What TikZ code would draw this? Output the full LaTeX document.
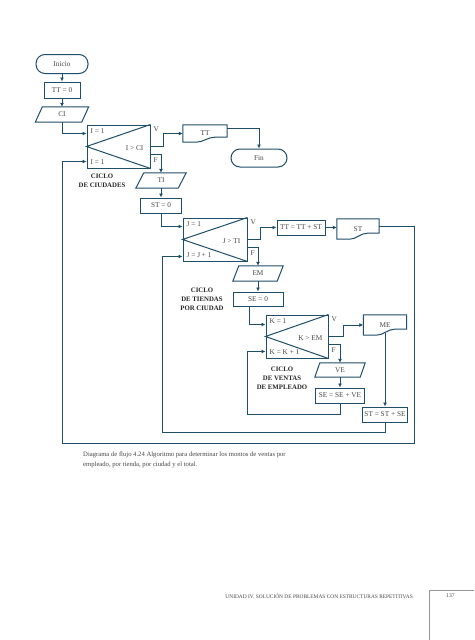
\documentclass[tikz,border=0pt]{standalone}
\usepackage{fontspec}
\setmainfont{Liberation Serif}
\usetikzlibrary{arrows.meta,calc}
\definecolor{lc}{RGB}{31,78,105}
\definecolor{tc}{RGB}{70,70,70}
\definecolor{fc}{RGB}{150,150,150}
\newcommand\paradraw[2]{\draw[ln] ([xshift=#2]#1.north west) -- (#1.north east) -- ([xshift=-#2]#1.south east) -- (#1.south west) -- cycle;}
\newcommand\docdraw[2]{\draw[ln] (#1.south west) -- (#1.north west) -- (#1.north east) -- ([yshift=#2]#1.south east) -- ($(#1.south west)!0.72!(#1.south east)+(0pt,#2)$) .. controls +(-7pt,0pt) and +(7pt,0pt) .. ($(#1.south west)!0.3!(#1.south east)$) -- cycle;}
\newcommand\loopdraw[1]{\draw[ln] (#1.north east) -- (#1.west) -- (#1.south east);}
\tikzset{
 ln/.style={draw=lc, line width=1pt},
 arr/.style={ln, -{Latex[length=4pt,width=4pt]}},
 txt/.style={text=tc, font=\fontsize{7.3}{8}\selectfont, inner sep=0pt},
 proc/.style={txt, draw=lc, line width=1pt, minimum height=15pt},
 term/.style={proc, rounded corners=9pt},
 io/.style={txt, minimum height=15pt},
 docnode/.style={txt, minimum height=20pt},
 loopbox/.style={draw=lc, line width=1pt, inner sep=0pt, minimum height=43pt},
 lbl/.style={txt},
 cyc/.style={font=\bfseries\fontsize{6.8}{9}\selectfont, align=center, text=black!85, inner sep=0pt},
}
\begin{document}
\begin{tikzpicture}[x=1pt,y=-1pt]
\useasboundingbox[fill=white] (0,0) rectangle (474,640);
% start
\node[term, minimum width=52pt, minimum height=19pt] (ini) at (62,64) {Inicio};
\node[proc, minimum width=36pt, minimum height=16pt] (tt0) at (62,90) {TT = 0};
\node[io, minimum width=53pt] (ci) at (62,114.5) {CI}; \paradraw{ci}{7pt}
% loop I
\node[loopbox, minimum width=63pt] (ib) at (118.5,146.5) {}; \loopdraw{ib}
\node[txt, anchor=west] (ib1) at ([xshift=4pt,yshift=-7pt]ib.north west) {I = 1};
\node[txt, anchor=east] (ib2) at ([xshift=-7pt,yshift=-1.5pt]ib.east) {I > CI};
\node[txt, anchor=west] (ib3) at ([xshift=4pt,yshift=6pt]ib.south west) {I = 1};
\node[lbl, anchor=west] (ibv) at ([xshift=3pt,yshift=-5pt]ib.north east) {V};
\node[lbl, anchor=west] (ibf) at ([xshift=3pt,yshift=-13.5pt]ib.east) {F};
\node[cyc] (cy1) at (102,180.5) {CICLO\\DE CIUDADES};
\node[docnode, minimum width=44pt, minimum height=17pt] (tt) at (205,133.5) {TT}; \docdraw{tt}{5pt}
\node[term, minimum width=56pt, minimum height=18pt] (fin) at (259,158) {Fin};
\node[io, minimum width=50pt] (ti) at (161,180.5) {TI}; \paradraw{ti}{8pt}
\node[proc, minimum width=41pt] (st0) at (161,205.5) {ST = 0};
% loop J
\node[loopbox, minimum width=64pt] (jb) at (215,239.5) {}; \loopdraw{jb}
\node[txt, anchor=west] (jb1) at ([xshift=4pt,yshift=-7pt]jb.north west) {J = 1};
\node[txt, anchor=east] (jb2) at ([xshift=-7pt,yshift=-1.5pt]jb.east) {J > TI};
\node[txt, anchor=west] (jb3) at ([xshift=4pt,yshift=6pt]jb.south west) {J = J + 1};
\node[lbl, anchor=west] (jbv) at ([xshift=3pt,yshift=-5pt]jb.north east) {V};
\node[lbl, anchor=west] (jbf) at ([xshift=3pt,yshift=-13.5pt]jb.east) {F};
\node[cyc] (cy2) at (202,299) {CICLO\\DE TIENDAS\\POR CIUDAD};
\node[proc, minimum width=48pt] (ttst) at (301,227.5) {TT = TT + ST};
\node[docnode, minimum width=42pt] (stdoc) at (358,229) {ST}; \docdraw{stdoc}{6pt}
\node[io, minimum width=50pt] (em) at (258,273.5) {EM}; \paradraw{em}{6pt}
\node[proc, minimum width=50pt, minimum height=14pt] (se0) at (258,299) {SE = 0};
% loop K
\node[loopbox, minimum width=62pt] (kb) at (297,336.5) {}; \loopdraw{kb}
\node[txt, anchor=west] (kb1) at ([xshift=4pt,yshift=-7pt]kb.north west) {K = 1};
\node[txt, anchor=east] (kb2) at ([xshift=-6pt,yshift=-1.5pt]kb.east) {K > EM};
\node[txt, anchor=west] (kb3) at ([xshift=4pt,yshift=6pt]kb.south west) {K = K + 1};
\node[lbl, anchor=west] (kbv) at ([xshift=3pt,yshift=-5pt]kb.north east) {V};
\node[lbl, anchor=west] (kbf) at ([xshift=3pt,yshift=-13.5pt]kb.east) {F};
\node[cyc] (cy3) at (282,378) {CICLO\\DE VENTAS\\DE EMPLEADO};
\node[docnode, minimum width=43pt] (me) at (385,325) {ME}; \docdraw{me}{6pt}
\node[io, minimum width=50pt, minimum height=14pt] (ve) at (340,370) {VE}; \paradraw{ve}{5pt}
\node[proc, minimum width=49pt] (sesev) at (340,395.5) {SE = SE + VE};
\node[proc, minimum width=45pt] (stse) at (385,414.5) {ST = ST + SE};
% route points
\coordinate (oR) at (414,443);
\coordinate (oL) at (62,443);
\coordinate (jL) at (162,432);
\coordinate (kL) at (247,414);
% connectors
\draw[arr] (ini.south) -- (tt0.north);
\draw[arr] (tt0.south) -- (ci.north);
\draw[arr] (ci.south) |- ([yshift=-9pt]ib.north west);
\draw[arr] (ib.east) -- ++(13,0) |- (tt.west);
\draw[arr] ([yshift=5pt]tt.east) -| (fin.north);
\draw[arr] ([yshift=-8pt]ib.east) -| (ti.north);
\draw[arr] (ti.south) -- (st0.north);
\draw[arr] (st0.south) |- ([yshift=-9pt]jb.north west);
\draw[arr] (jb.east) -- ++(13,0) |- (ttst.west);
\draw[arr] (ttst.east) -- (ttst.east -| stdoc.west);
\draw[arr] ([yshift=3pt]stdoc.east) -| (oR) -- (oL) |- ([yshift=7pt]ib.south west);
\draw[arr] ([yshift=-8pt]jb.east) -| (em.north);
\draw[arr] (em.south) -- (se0.north);
\draw[arr] ([xshift=-9pt]se0.south) |- ([yshift=-10pt]kb.north west);
\draw[arr] (kb.east) -- ++(15,0) |- (me.west);
\draw[arr] ([yshift=2.5pt]me.south) -- (stse.north);
\draw[arr] ([yshift=-8pt]kb.east) -| (ve.north);
\draw[arr] (ve.south) -- (sesev.north);
\draw[arr] (sesev.south) |- (kL) |- ([yshift=7pt]kb.south west);
\draw[arr] (stse.south) |- (jL) |- ([yshift=5pt]jb.south west);
% caption
\node[anchor=north west, align=left, text=tc, font=\fontsize{6.65}{10}\selectfont, inner sep=0pt] (cap) at (83,452) {Diagrama de flujo 4.24 Algoritmo para determinar los montos de ventas por\\empleado, por tienda, por ciudad y el total.};
% footer
\draw[fc, line width=0.6pt] (474,590) -- (429,590) -- (429,640);
\node[anchor=east, text=tc, font=\fontsize{5.4}{6}\selectfont, inner sep=0pt] (foot) at (413,596) {UNIDAD IV. SOLUCIÓN DE PROBLEMAS CON ESTRUCTURAS REPETITIVAS};
\node[anchor=west, text=tc, font=\fontsize{5.6}{6}\selectfont, inner sep=0pt] (pg) at (446,596) {137};
\end{tikzpicture}
\end{document}
